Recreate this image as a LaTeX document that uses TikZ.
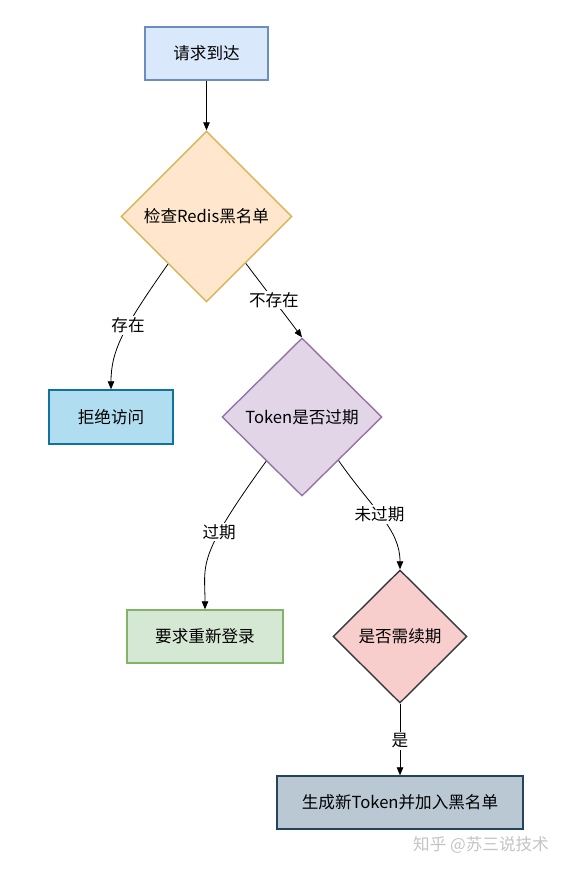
\documentclass[tikz,border=0pt]{standalone}
\usepackage{fontspec}
\setmainfont{Noto Sans CJK SC}
\usetikzlibrary{shapes.geometric,arrows.meta}
\definecolor{bluef}{HTML}{DAE8FC}\definecolor{blued}{HTML}{6C8EBF}
\definecolor{orf}{HTML}{FFE6CC}\definecolor{ord}{HTML}{D6B656}
\definecolor{cyf}{HTML}{B1DDF0}\definecolor{cyd}{HTML}{10739E}
\definecolor{puf}{HTML}{E1D5E7}\definecolor{pud}{HTML}{9673A6}
\definecolor{grf}{HTML}{D5E8D4}\definecolor{grd}{HTML}{82B366}
\definecolor{pkf}{HTML}{F8CECC}\definecolor{pkd}{HTML}{36393D}
\definecolor{slf}{HTML}{BAC8D3}\definecolor{sld}{HTML}{23445D}
\definecolor{wm}{HTML}{C4C4C4}
\tikzset{
  txt/.style={font=\fontsize{16.6}{19}\selectfont},
  rbox/.style={txt, draw, line width=1.4pt, rectangle, inner sep=0pt},
  dbox/.style={txt, draw, line width=1.4pt, diamond, inner sep=0pt, aspect=1},
  conn/.style={draw=black, line width=0.8pt, -{Triangle[length=8pt,width=6.5pt]}},
  elab/.style={txt, fill=white, inner sep=1.5pt},
}
\begin{document}
\begin{tikzpicture}[x=1pt,y=1pt]
\useasboundingbox (0,0) rectangle (564,-870);
\fill[white] (0,0) rectangle (564,-870);
\node[rbox, fill=bluef, draw=blued, minimum width=123pt, minimum height=53pt] (start) at (206.5,-53.5) {请求到达};
\node[dbox, fill=orf, draw=ord, minimum width=171pt, minimum height=171pt] (d1) at (206.5,-216.5) {检查Redis黑名单};
\node[rbox, fill=cyf, draw=cyd, minimum width=124pt, minimum height=54pt] (deny) at (111,-417) {拒绝访问};
\node[dbox, fill=puf, draw=pud, minimum width=160pt, minimum height=158pt] (d2) at (302,-417) {Token是否过期};
\node[rbox, fill=grf, draw=grd, minimum width=156pt, minimum height=53pt] (relog) at (205,-636.5) {要求重新登录};
\node[dbox, fill=pkf, draw=pkd, minimum width=134pt, minimum height=133pt] (d3) at (400,-636.5) {是否需续期};
\node[rbox, fill=slf, draw=sld, minimum width=246pt, minimum height=53pt] (newtok) at (400,-802.5) {生成新Token并加入黑名单};
\node[txt, text=wm] (wmk) at (481,-845) {知乎 @苏三说技术};

\draw[conn] (start.south) -- (d1.north);
\draw[conn] (d1.231) to[out=235,in=90,out distance=75pt,in distance=40pt] node[elab, pos=0.42] {存在} (deny.north);
\draw[conn] (d1.310) to[out=-53,in=127] node[elab, pos=0.5] {不存在} (d2.north);
\draw[conn] (d2.231) to[out=234,in=90,out distance=120pt,in distance=45pt] node[elab, pos=0.33] {过期} (relog.north);
\draw[conn] (d2.310) to[out=-55,in=90,out distance=60pt,in distance=40pt] node[elab, pos=0.46] {未过期} (d3.north);
\draw[conn] (d3.south) -- node[elab, pos=0.52] {是} (newtok.north);
\end{tikzpicture}
\end{document}
